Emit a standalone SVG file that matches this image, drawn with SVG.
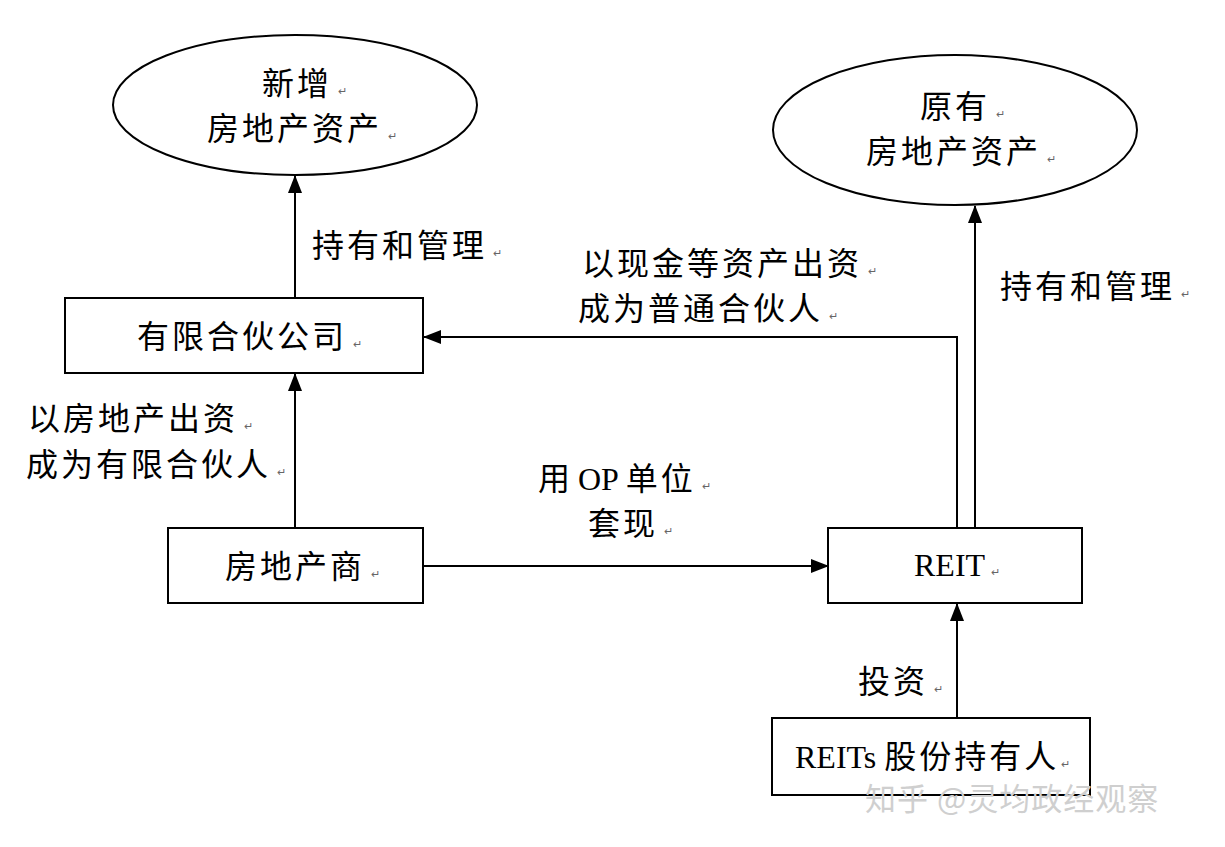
<svg xmlns="http://www.w3.org/2000/svg" width="1225" height="847" viewBox="0 0 1225 847">
<defs>
<style>
.s{fill:none;stroke:#000;stroke-width:2}
.b{fill:#fff;stroke:#000;stroke-width:2}
text{font-family:"Liberation Serif","Noto Sans CJK SC",serif;font-size:32px;fill:#000;letter-spacing:3px}
.l{letter-spacing:0}
.m{font-size:11px;fill:#666;letter-spacing:0}
.w{font-family:"Noto Sans CJK SC",sans-serif;font-size:31px;fill:#cfcfcf;letter-spacing:1px}
</style>
<marker id="ah" markerWidth="18" markerHeight="18" refX="17" refY="9" orient="auto" markerUnits="userSpaceOnUse" viewBox="0 0 18 18"><path d="M0,2L18,9L0,16z" fill="#000"/></marker>
</defs>
<rect width="1225" height="847" fill="#fff"/>
<g id="connectors">
<path class="s" d="M295,298V176" marker-end="url(#ah)"/>
<path class="s" d="M295,528V374" marker-end="url(#ah)"/>
<path class="s" d="M423,566H828" marker-end="url(#ah)"/>
<path class="s" d="M957,528V337H424" marker-end="url(#ah)"/>
<path class="s" d="M975,528V206" marker-end="url(#ah)"/>
<path class="s" d="M957,718V604" marker-end="url(#ah)"/>
<text x="312" y="257">持有和管理<tspan class="m" dx="6">↵</tspan></text>
<text x="582" y="275">以现金等资产出资<tspan class="m" dx="6">↵</tspan></text>
<text x="578" y="320">成为普通合伙人<tspan class="m" dx="6">↵</tspan></text>
<text x="1000" y="298">持有和管理<tspan class="m" dx="6">↵</tspan></text>
<text x="28" y="430">以房地产出资<tspan class="m" dx="6">↵</tspan></text>
<text x="26" y="476">成为有限合伙人<tspan class="m" dx="6">↵</tspan></text>
<text x="538" y="490"><tspan class="l">用 OP </tspan>单位<tspan class="m" dx="6">↵</tspan></text>
<text x="588" y="535">套现<tspan class="m" dx="6">↵</tspan></text>
<text x="858" y="693">投资<tspan class="m" dx="6">↵</tspan></text>
</g>
<g id="n1"><ellipse class="b" cx="295" cy="105" rx="182" ry="70"/>
<text x="262" y="95">新增<tspan class="m" dx="6">↵</tspan></text>
<text x="207" y="140">房地产资产<tspan class="m" dx="6">↵</tspan></text></g>
<g id="n2"><ellipse class="b" cx="955" cy="130" rx="182" ry="75"/>
<text x="920" y="118">原有<tspan class="m" dx="6">↵</tspan></text>
<text x="866" y="163">房地产资产<tspan class="m" dx="6">↵</tspan></text></g>
<g id="n3"><rect class="b" x="65" y="298" width="358" height="75"/>
<text x="137" y="348">有限合伙公司<tspan class="m" dx="6">↵</tspan></text></g>
<g id="n4"><rect class="b" x="168" y="528" width="255" height="75"/>
<text x="225" y="578">房地产商<tspan class="m" dx="6">↵</tspan></text></g>
<g id="n5"><rect class="b" x="828" y="528" width="254" height="75"/>
<text class="l" x="914" y="576">REIT<tspan class="m" dx="6">↵</tspan></text></g>
<g id="n6"><rect class="b" x="772" y="718" width="318" height="77"/>
<text x="795" y="768"><tspan class="l">REITs </tspan>股份持有人<tspan class="m" dx="2">↵</tspan></text></g>
<text class="w" x="865" y="810">知乎 @灵均政经观察</text>
</svg>
